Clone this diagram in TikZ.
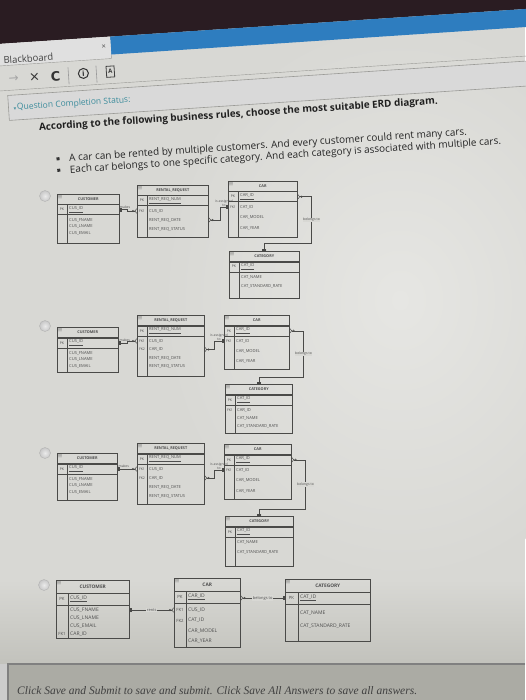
\documentclass[tikz,border=0pt]{standalone}
\usepackage{fontspec}
\setmainfont{Open Sans}
\newfontfamily\symfont{DejaVu Sans}
\newfontfamily\footfont{Liberation Serif}
\usetikzlibrary{arrows.meta,calc}
\definecolor{bgc}{HTML}{D8D8D4}
\definecolor{bglight}{HTML}{E6E6E3}
\definecolor{bgdark}{HTML}{C2C2BC}
\definecolor{linec}{HTML}{4A4A48}
\definecolor{txtc}{HTML}{4E4E4E}
\definecolor{darktop}{HTML}{2A1C22}
\definecolor{bluebar}{HTML}{2E7DBF}
\definecolor{tealc}{HTML}{3C8C9C}
\definecolor{footbg}{HTML}{ABABA4}
\definecolor{panelline}{HTML}{9A9A96}
\newcommand\ERhh{10pt}
\newcommand\ERpp{10pt}
\newcommand\ERkk{10pt}
% #1 id, #2 (x,y), #3 w, #4 h, #5 title, #6 pk, #7 first offset, #8 spacing, #9 key/attr list
\newcommand\erent[9]{%
  \node[ebox, minimum width=#3pt, minimum height=#4pt, anchor=north west] (#1) at #2 {};
  \node[ehead, minimum width=#3pt, minimum height=\ERhh, anchor=north west] (#1-h) at (#1.north west) {#5};
  \node[epk, minimum width=#3pt, minimum height=\ERpp, anchor=north west] (#1-pk) at (#1-h.south west) {};
  \node[ekey] (#1-pkk) at ([xshift=\ERkk/2]#1-pk.west) {PK};
  \node[eattr] (#1-pka) at ([xshift=\ERkk+2pt]#1-pk.west) {\underline{#6}};
  \draw[eline] ([xshift=\ERkk]#1-pk.north west) -- ([xshift=\ERkk]#1.south west);
  \node[eicon] (#1-ic) at ([xshift=3pt,yshift=-3pt]#1.north west) {$\equiv$};
  \foreach \k/\a [count=\i] in {#9} {
    \coordinate (#1-w\i) at ([yshift={-#7pt-(\i-1)*#8pt}]#1-pk.south west);
    \coordinate (#1-e\i) at ([yshift={-#7pt-(\i-1)*#8pt}]#1-pk.south east);
    \node[ekey] (#1-k\i) at ([xshift=\ERkk/2]#1-w\i) {\k};
    \node[eattr] (#1-a\i) at ([xshift=\ERkk+2pt]#1-w\i) {\a};
  }%
}
\begin{document}
\begin{tikzpicture}[x=1pt,y=-1pt,
  ebox/.style={draw=linec, line width=0.5pt, inner sep=0pt},
  ehead/.style={draw=linec, line width=0.5pt, inner sep=0pt, font=\fontsize{3.8}{4}\selectfont\bfseries, text=txtc},
  epk/.style={draw=linec, line width=0.5pt, inner sep=0pt},
  eline/.style={draw=linec, line width=0.5pt},
  ekey/.style={inner sep=0pt, font=\fontsize{3.5}{4}\selectfont, text=txtc},
  eattr/.style={inner sep=0pt, anchor=west, font=\fontsize{4.1}{4.5}\selectfont, text=txtc},
  eicon/.style={inner sep=0pt, font=\fontsize{3}{3}\selectfont, text=txtc},
  conn/.style={draw=linec, line width=0.5pt},
  o2m/.style={conn, {Bar[width=4pt,sep=0.8pt]Bar[width=4pt]}-{Circle[open,length=2.2pt,width=2.2pt,sep=0.3pt]Straight Barb[reversed,length=2pt,width=4.5pt]}},
  lbl/.style={inner sep=0.6pt, font=\fontsize{3.4}{3.8}\selectfont, text=txtc},
  radio/.style={circle, minimum size=11pt, inner sep=0pt, draw=black!30, inner color=white!92!black, outer color=black!22},
]
\useasboundingbox (0,0) rectangle (525,700);
% page background
\fill[bgc] (0,0) rectangle (525,700);
\shade[inner color=bglight, outer color=bgc] (400,300) ellipse [x radius=240, y radius=280];
\shade[top color=bgc, bottom color=bgdark] (0,580) rectangle (525,664);

% ---------- browser top & question header (tilted) ----------
\begin{scope}[rotate around={3.8:(0,100)}, transform shape]
  \fill[darktop] (-80,-140) rectangle (640,44);
  \fill[bluebar] (114,44) rectangle (640,62);
  \fill[white!88!black] (-80,44) rectangle (114,66);
  \node[anchor=base west, inner sep=0pt, font=\fontsize{9.5}{11}\selectfont, text=black!75] (tab) at (6,64) {Blackboard};
  \node[inner sep=0pt, font=\symfont\fontsize{6}{6}\selectfont, text=black!70] (tabx) at (107,54) {×};
  \draw[panelline] (-80,66) -- (114,66) -- (114,62);
  \node[inner sep=0pt, font=\symfont\fontsize{12}{12}\selectfont, text=black!35] (fwd) at (15,80) {→};
  \node[inner sep=0pt, font=\symfont\fontsize{13}{13}\selectfont, text=black!80] (stop) at (36,80) {×};
  \node[inner sep=0pt, font=\symfont\bfseries\fontsize{13}{13}\selectfont, text=black!80] (reload) at (57,80) {C};
  \draw[black!40, line width=0.6pt] (70,72) -- (70,89);
  \node[circle, draw=black!80, line width=1pt, minimum size=10pt, inner sep=0pt, font=\symfont\bfseries\fontsize{7}{7}\selectfont, text=black!80] (info) at (85,79) {i};
  \draw[black!40, line width=0.6pt] (98,72) -- (98,89);
  \node[draw=black!75, line width=0.8pt, minimum width=8pt, minimum height=11pt, inner sep=0pt, font=\fontsize{6}{6}\selectfont\bfseries, text=black!80] (doc) at (112,79) {A};
  \draw[panelline] (-80,91) -- (640,91);
  \filldraw[draw=panelline, fill=white!85!black, line width=0.6pt] (640,96) -- (8,96) -- (8,121) -- (640,121);
  \node[anchor=base west, inner sep=0pt, text=tealc] (qcs) at (13,111) {\symfont\fontsize{5}{5}\selectfont ▾\,\normalfont\fontsize{8.5}{10}\selectfont Question Completion Status:};
  \node[anchor=base west, inner sep=0pt, font=\bfseries\fontsize{9.9}{11}\selectfont, text=black!88] (q) at (37,133) {According to the following business rules, choose the most suitable ERD diagram.};
  \fill[black!80] (52.5,161) rectangle (55.5,164);
  \node[anchor=base west, inner sep=0pt, font=\fontsize{10}{11}\selectfont, text=black!85] (b1) at (65,166) {A car can be rented by multiple customers. And every customer could rent many cars.};
  \fill[black!80] (52.5,172.5) rectangle (55.5,175.5);
  \node[anchor=base west, inner sep=0pt, font=\fontsize{10}{11}\selectfont, text=black!85] (b2) at (65,177.5) {Each car belongs to one specific category. And each category is associated with multiple cars.};
\end{scope}

% ---------- radio buttons ----------
\node[radio] (r1) at (45,196) {};
\node[radio] (r2) at (45,326) {};
\node[radio] (r3) at (45,453) {};
\node[radio] (r4) at (44,585) {};

% ---------- option 1 ----------
\erent{cus1}{(57,194)}{62}{49}{CUSTOMER}{CUS\_ID}{5}{6.5}{{}/CUS\_FNAME,{}/CUS\_LNAME,{}/CUS\_EMAIL}
\erent{rr1}{(137,185)}{71}{52}{RENTAL\_REQUEST}{RENT\_REQ\_NUM}{5}{9}{FK1/CUS\_ID,{}/RENT\_REQ\_DATE,{}/RENT\_REQ\_STATUS}
\erent{car1}{(228,181)}{69}{56}{CAR}{CAR\_ID}{5}{10.5}{FK1/CAT\_ID,{}/CAR\_MODEL,{}/CAR\_YEAR}
\erent{cat1}{(229,251)}{70}{47}{CATEGORY}{CAT\_ID}{5}{9.5}{{}/CAT\_NAME,{}/CAT\_STANDARD\_RATE}
\draw[o2m] (cus1-pk.east) -- node[lbl, above, pos=0.7] {makes} ++(8,0) |- (rr1-w1);
\draw[o2m] (car1-w1) -- node[lbl, above, align=center] {is assigned\\to} ++(-8,0) |- (rr1-e2);
\draw[o2m] (cat1.north) -- ([yshift=8pt]cat1.north) -| node[lbl, fill=bgc, pos=0.75] {belongs to} ([xshift=14pt]car1-pk.east) -- (car1-pk.east);

% ---------- option 2 ----------
\erent{cus2}{(57,327)}{61}{45}{CUSTOMER}{CUS\_ID}{5}{6.5}{{}/CUS\_FNAME,{}/CUS\_LNAME,{}/CUS\_EMAIL}
\erent{rr2}{(137,315)}{67}{61}{RENTAL\_REQUEST}{RENT\_REQ\_NUM}{5}{8.5}{FK1/CUS\_ID,FK2/CAR\_ID,{}/RENT\_REQ\_DATE,{}/RENT\_REQ\_STATUS}
\erent{car2}{(224,315)}{65}{54}{CAR}{CAR\_ID}{5}{10}{FK1/CAT\_ID,{}/CAR\_MODEL,{}/CAR\_YEAR}
\erent{cat2}{(225,384)}{67}{49}{CATEGORY}{CAT\_ID}{5}{8}{FK1/CAR\_ID,{}/CAT\_NAME,{}/CAT\_STANDARD\_RATE}
\draw[o2m] (cus2-pk.east) -- node[lbl, above, pos=0.7] {makes} ++(9,0) |- (rr2-w1);
\draw[o2m] (car2-w1) -- node[lbl, above, align=center] {is assigned\\to} ++(-10,0) |- (rr2-e2);
\draw[o2m] (cat2.north) -- ([yshift=7pt]cat2.north) -| node[lbl, fill=bgc, pos=0.75] {belongs to} ([xshift=14pt]car2-pk.east) -- (car2-pk.east);

% ---------- option 3 ----------
\erent{cus3}{(57,453)}{60}{47}{CUSTOMER}{CUS\_ID}{5}{6.5}{{}/CUS\_FNAME,{}/CUS\_LNAME,{}/CUS\_EMAIL}
\erent{rr3}{(137,443)}{67}{61}{RENTAL\_REQUEST}{RENT\_REQ\_NUM}{5}{9}{FK1/CUS\_ID,FK2/CAR\_ID,{}/RENT\_REQ\_DATE,{}/RENT\_REQ\_STATUS}
\erent{car3}{(224,444)}{67}{55}{CAR}{CAR\_ID}{5}{10.5}{FK1/CAT\_ID,{}/CAR\_MODEL,{}/CAR\_YEAR}
\erent{cat3}{(225,516)}{68}{50}{CATEGORY}{CAT\_ID}{5}{10}{{}/CAT\_NAME,{}/CAT\_STANDARD\_RATE}
\draw[o2m] (cus3-pk.east) -- node[lbl, above, pos=0.7] {makes} ++(9,0) |- (rr3-w1);
\draw[o2m] (car3-w1) -- node[lbl, above, align=center] {is assigned\\to} ++(-10,0) |- (rr3-e2);
\draw[o2m] (cat3.north) -- ([yshift=7pt]cat3.north) -| node[lbl, fill=bgc, pos=0.75] {belongs to} ([xshift=14pt]car3-pk.east) -- (car3-pk.east);

% ---------- option 4 ----------
\begin{scope}[eattr/.append style={font=\fontsize{5}{5.5}\selectfont},
              ekey/.append style={font=\fontsize{4.3}{5}\selectfont},
              ehead/.append style={font=\fontsize{4.8}{5.2}\selectfont\bfseries},
              lbl/.append style={font=\fontsize{4}{4.5}\selectfont}]
\renewcommand\ERhh{12.5pt}\renewcommand\ERpp{11.5pt}\renewcommand\ERkk{12pt}
\erent{cus4}{(56,580)}{73}{58}{CUSTOMER}{CUS\_ID}{5}{8}{{}/CUS\_FNAME,{}/CUS\_LNAME,{}/CUS\_EMAIL,FK1/CAR\_ID}
\erent{car4}{(174,578)}{66}{69}{CAR}{CAR\_ID}{7}{10.5}{FK1/CUS\_ID,FK2/CAT\_ID,{}/CAR\_MODEL,{}/CAR\_YEAR}
\renewcommand\ERkk{13pt}
\erent{cat4}{(285,579)}{85}{62}{CATEGORY}{CAT\_ID}{9}{13}{{}/CAT\_NAME,{}/CAT\_STANDARD\_RATE}
\draw[o2m] (cus4.east |- car4-w1) -- node[lbl, fill=bgc] {rents} (car4-w1);
\draw[o2m] (cat4-pk.west) -- node[lbl, fill=bgc] {belongs to} (cat4-pk.west -| car4.east);
\end{scope}

% ---------- footer ----------
\fill[footbg] (8,664) rectangle (525,700);
\fill[black!20] (0,664) rectangle (8,700);
\draw[black!50, line width=1.6pt] (8,700) -- (8,664) -- (525,664);
\node[anchor=base west, inner sep=0pt, font=\footfont\itshape\fontsize{11.5}{13}\selectfont, text=black!75] (foot) at (17,694) {Click Save and Submit to save and submit. Click Save All Answers to save all answers.};
\end{tikzpicture}
\end{document}
